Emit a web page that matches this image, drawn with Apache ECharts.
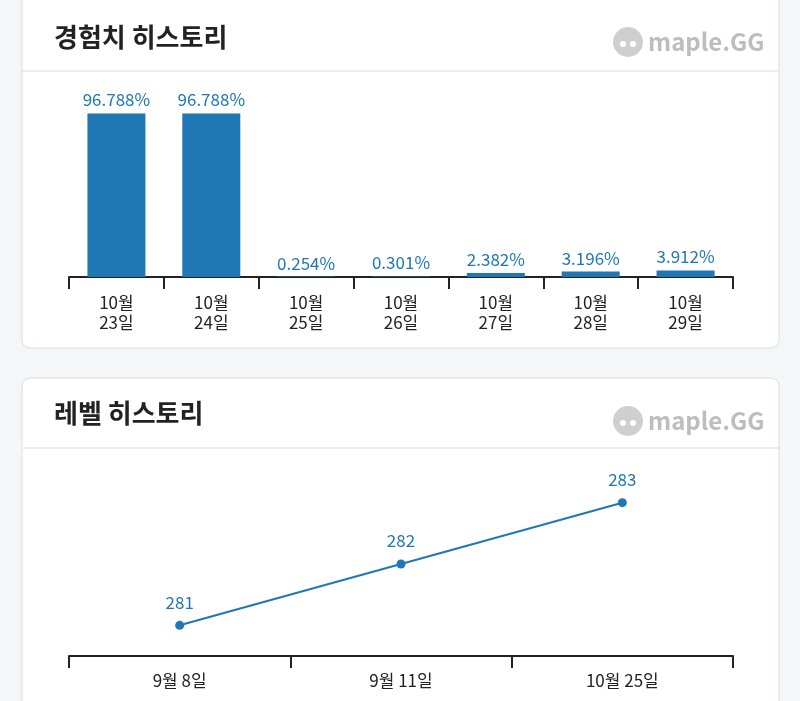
<!DOCTYPE html>
<html><head><meta charset="utf-8">
<script src="https://cdn.jsdelivr.net/npm/echarts@6/dist/echarts.min.js"></script>
<style>html,body{margin:0;padding:0;background:#f5f6f8}#c{width:800px;height:701px}</style>
</head><body><div id="c"></div>
<script>
const expDays = ['10월\n23일','10월\n24일','10월\n25일','10월\n26일','10월\n27일','10월\n28일','10월\n29일'];
const expValues = [96.788, 96.788, 0.254, 0.301, 2.382, 3.196, 3.912];
const levelDays = ['9월 8일','9월 11일','10월 25일'];
const levelValues = [281, 282, 283];
const F = '"Noto Sans CJK KR","Noto Sans",sans-serif';
const blue = '#1f77b4';
function logo(y){
  return [
    {type:'circle',shape:{cx:628,cy:y,r:15},style:{fill:'#cfcfcf'}},
    {type:'circle',shape:{cx:623,cy:y+2,r:3},style:{fill:'#fff'}},
    {type:'circle',shape:{cx:633,cy:y+2,r:3},style:{fill:'#fff'}},
    {type:'text',x:648,y:y,style:{text:'maple.GG',fill:'#bdbdbd',font:'bold 24px '+F,verticalAlign:'middle'}}
  ];
}
const tick = {show:true,alignWithLabel:false,length:12,lineStyle:{color:'#222',width:2}};
const chart = echarts.init(document.getElementById('c'));
chart.setOption({
  backgroundColor:'#f5f6f8',
  graphic:[
    {type:'rect',shape:{x:22,y:-10,width:757,height:358,r:8},style:{fill:'#fff',stroke:'#dcdcdc',lineWidth:1},z:-10},
    {type:'line',shape:{x1:22,y1:71,x2:779,y2:71},style:{stroke:'#dcdcdc',lineWidth:1},z:-9},
    {type:'text',x:54,y:37,style:{text:'경험치 히스토리',fill:'#222',font:'bold 26px '+F,verticalAlign:'middle'}},
    ...logo(42),
    {type:'rect',shape:{x:22,y:378,width:757,height:340,r:8},style:{fill:'#fff',stroke:'#dcdcdc',lineWidth:1},z:-10},
    {type:'line',shape:{x1:22,y1:448,x2:779,y2:448},style:{stroke:'#dcdcdc',lineWidth:1},z:-9},
    {type:'text',x:54,y:413,style:{text:'레벨 히스토리',fill:'#222',font:'bold 26px '+F,verticalAlign:'middle'}},
    ...logo(421)
  ],
  grid:[
    {left:69,right:67,top:108,bottom:424},
    {left:69,right:67,top:472,bottom:45}
  ],
  xAxis:[
    {gridIndex:0,type:'category',data:expDays,axisLine:{lineStyle:{color:'#222',width:2}},
     axisTick:tick,
     axisLabel:{color:'#222',fontSize:17,fontFamily:F,lineHeight:20,margin:16}},
    {gridIndex:1,type:'category',data:levelDays,axisLine:{lineStyle:{color:'#222',width:2}},
     axisTick:tick,
     axisLabel:{color:'#222',fontSize:17,fontFamily:F,margin:16}}
  ],
  yAxis:[
    {gridIndex:0,type:'value',min:0,max:100,show:false},
    {gridIndex:1,type:'value',min:280.5,max:283.5,show:false}
  ],
  series:[
    {type:'bar',xAxisIndex:0,yAxisIndex:0,data:expValues,barWidth:58,itemStyle:{color:blue},
     label:{show:true,position:'top',color:blue,fontSize:17,fontFamily:F,formatter:p=>p.value.toFixed(3)+'%'}},
    {type:'line',xAxisIndex:1,yAxisIndex:1,data:levelValues,symbol:'circle',symbolSize:9,
     lineStyle:{color:blue,width:2},itemStyle:{color:blue},
     label:{show:true,position:'top',distance:10,color:blue,fontSize:17,fontFamily:F}}
  ]
});
</script></body></html>
